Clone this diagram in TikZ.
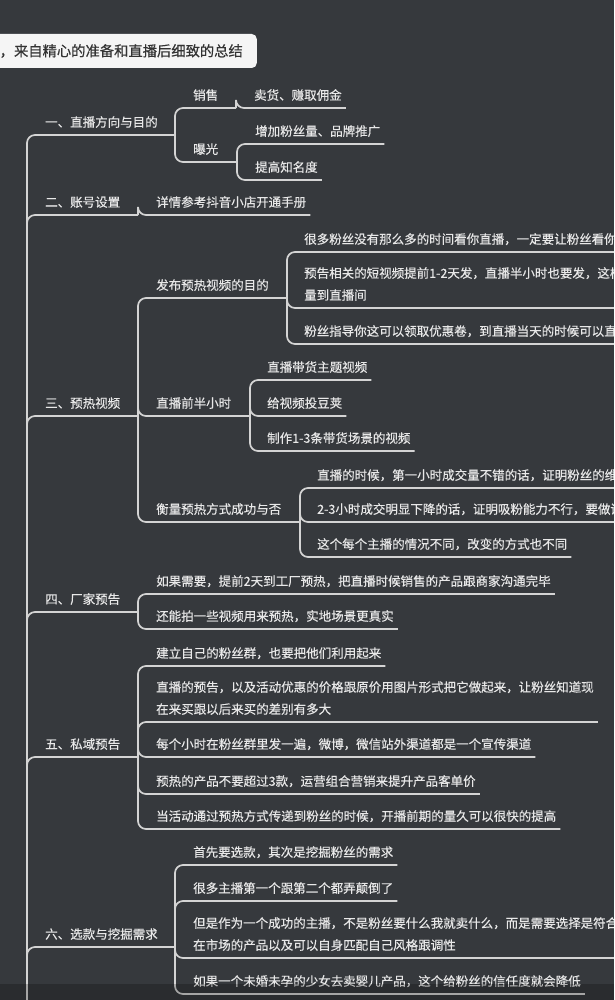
\documentclass[tikz,border=0pt]{standalone}
\usepackage{fontspec}
\newfontfamily\cjk[FakeBold=0.4]{Noto Sans CJK SC}
\usetikzlibrary{calc}
\definecolor{bg}{HTML}{36393D}
\definecolor{ln}{HTML}{D4D4D4}
\definecolor{tx}{HTML}{E8E8E8}
\definecolor{rootfill}{HTML}{F5F5F5}
\definecolor{roottx}{HTML}{333333}
\begin{document}
\begin{tikzpicture}[x=1pt,y=-1pt,
  topic/.style={anchor=south west, inner sep=0pt, yshift=1.4pt, text=tx, align=left,
    font=\cjk\fontsize{12.5}{22}\selectfont, execute at end node={\strut}},
  rootbox/.style={anchor=east, fill=rootfill, rounded corners=5pt, minimum height=34pt,
    inner xsep=14pt, text=roottx, font=\cjk\fontsize{14.3}{17}\selectfont},
  link/.style={draw=ln, line width=1.7pt, rounded corners=8pt},
]
\fill[bg] (0,0) rectangle (614,1000);
\useasboundingbox (0,0) rectangle (614,1000);
\clip (0,0) rectangle (614,1000);

% root
\node[rootbox] (root) at (257,51) {，来自精心的准备和直播后细致的总结};

% junctions
\coordinate (T) at (27,1020);
\coordinate (J1) at (175,135);
\coordinate (J2) at (138,215);
\coordinate (J3) at (138,416);
\coordinate (J4) at (138,612);
\coordinate (J5) at (138,757);
\coordinate (J6) at (175,947);
\coordinate (Ja1) at (236,108);
\coordinate (Ja2) at (237,162);
\coordinate (Jc1) at (287,298);
\coordinate (Jc2) at (250,416);
\coordinate (Jc3) at (300,522);

% level 1
\node[topic] (t1) at (45,135) {一、直播方向与目的};
\node[topic] (t2) at (45,215) {二、账号设置};
\node[topic] (t3) at (45,416) {三、预热视频};
\node[topic] (t4) at (45,612) {四、厂家预告};
\node[topic] (t5) at (45,757) {五、私域预告};
\node[topic] (t6) at (45,947) {六、选款与挖掘需求};

% branch 1
\node[topic] (a1) at (193,108) {销售};
\node[topic] (a2) at (193,162) {曝光};
\node[topic] (a11) at (254,108) {卖货、赚取佣金};
\node[topic] (a21) at (255,144) {增加粉丝量、品牌推广};
\node[topic] (a22) at (255,180) {提高知名度};

% branch 2
\node[topic] (b0) at (156,215) {详情参考抖音小店开通手册};

% branch 3
\node[topic] (c1) at (156,298) {发布预热视频的目的};
\node[topic] (c2) at (156,416) {直播前半小时};
\node[topic] (c3) at (156,522) {衡量预热方式成功与否};
\node[topic] (c11) at (304,252) {很多粉丝没有那么多的时间看你直播，一定要让粉丝看你};
\node[topic] (c12) at (304,308) {预告相关的短视频提前1-2天发，直播半小时也要发，这样\\量到直播间};
\node[topic] (c13) at (304,344) {粉丝指导你这可以领取优惠卷，到直播当天的时候可以直};
\node[topic] (c21) at (267,380) {直播带货主题视频};
\node[topic] (c22) at (267,416) {给视频投豆荚};
\node[topic] (c23) at (267,451) {制作1-3条带货场景的视频};
\node[topic] (c31) at (317,488) {直播的时候，第一小时成交量不错的话，证明粉丝的维};
\node[topic] (c32) at (317,522) {2-3小时成交明显下降的话，证明吸粉能力不行，要做调};
\node[topic] (c33) at (317,557) {这个每个主播的情况不同，改变的方式也不同};

% branch 4
\node[topic] (d1) at (156,594) {如果需要，提前2天到工厂预热，把直播时候销售的产品跟商家沟通完毕};
\node[topic] (d2) at (156,629) {还能拍一些视频用来预热，实地场景更真实};

% branch 5
\node[topic] (e1) at (156,666) {建立自己的粉丝群，也要把他们利用起来};
\node[topic] (e2) at (156,722) {直播的预告，以及活动优惠的价格跟原价用图片形式把它做起来，让粉丝知道现\\在来买跟以后来买的差别有多大};
\node[topic] (e3) at (156,757) {每个小时在粉丝群里发一遍，微博，微信站外渠道都是一个宣传渠道};
\node[topic] (e4) at (156,794) {预热的产品不要超过3款，运营组合营销来提升产品客单价};
\node[topic] (e5) at (156,829) {当活动通过预热方式传递到粉丝的时候，开播前期的量久可以很快的提高};

% branch 6
\node[topic] (f1) at (193,865) {首先要选款，其次是挖掘粉丝的需求};
\node[topic] (f2) at (193,901) {很多主播第一个跟第二个都弄颠倒了};
\node[topic] (f3) at (193,958) {但是作为一个成功的主播，不是粉丝要什么我就卖什么，而是需要选择是符合\\在市场的产品以及可以自身匹配自己风格跟调性};
\node[topic] (f4) at (193,994) {如果一个未婚未孕的少女去卖婴儿产品，这个给粉丝的信任度就会降低};

% connectors: trunk
\foreach \j in {J1,J2,J3,J4,J5,J6} \draw[link] (T) |- (\j);
% branch 1
\draw[link] (J1) |- (Ja1);
\draw[link] (J1) |- (Ja2);
\draw[link] (Ja1) |- ($(a11.south east)+(4,1.4)$);
\draw[link] (Ja2) |- ($(a21.south east)+(4,1.4)$);
\draw[link] (Ja2) |- ($(a22.south east)+(4,1.4)$);
% branch 2
\draw[link] (J2) |- ($(b0.south east)+(4,1.4)$);
% branch 3
\draw[link] (J3) |- (Jc1);
\draw[link] (J3) |- (Jc2);
\draw[link] (J3) |- (Jc3);
\foreach \n in {c11,c12,c13} \draw[link] (Jc1) |- ($(\n.south east)+(4,1.4)$);
\foreach \n in {c21,c22,c23} \draw[link] (Jc2) |- ($(\n.south east)+(4,1.4)$);
\foreach \n in {c31,c32,c33} \draw[link] (Jc3) |- ($(\n.south east)+(4,1.4)$);
% branch 4
\foreach \n in {d1,d2} \draw[link] (J4) |- ($(\n.south east)+(4,1.4)$);
% branch 5
\foreach \n in {e1,e2,e3,e4,e5} \draw[link] (J5) |- ($(\n.south east)+(4,1.4)$);
% branch 6
\foreach \n in {f1,f2,f3,f4} \draw[link] (J6) |- ($(\n.south east)+(4,1.4)$);

% bottom shade
\fill[black, opacity=0.22] (0,984) rectangle (614,1000);
\end{tikzpicture}
\end{document}
